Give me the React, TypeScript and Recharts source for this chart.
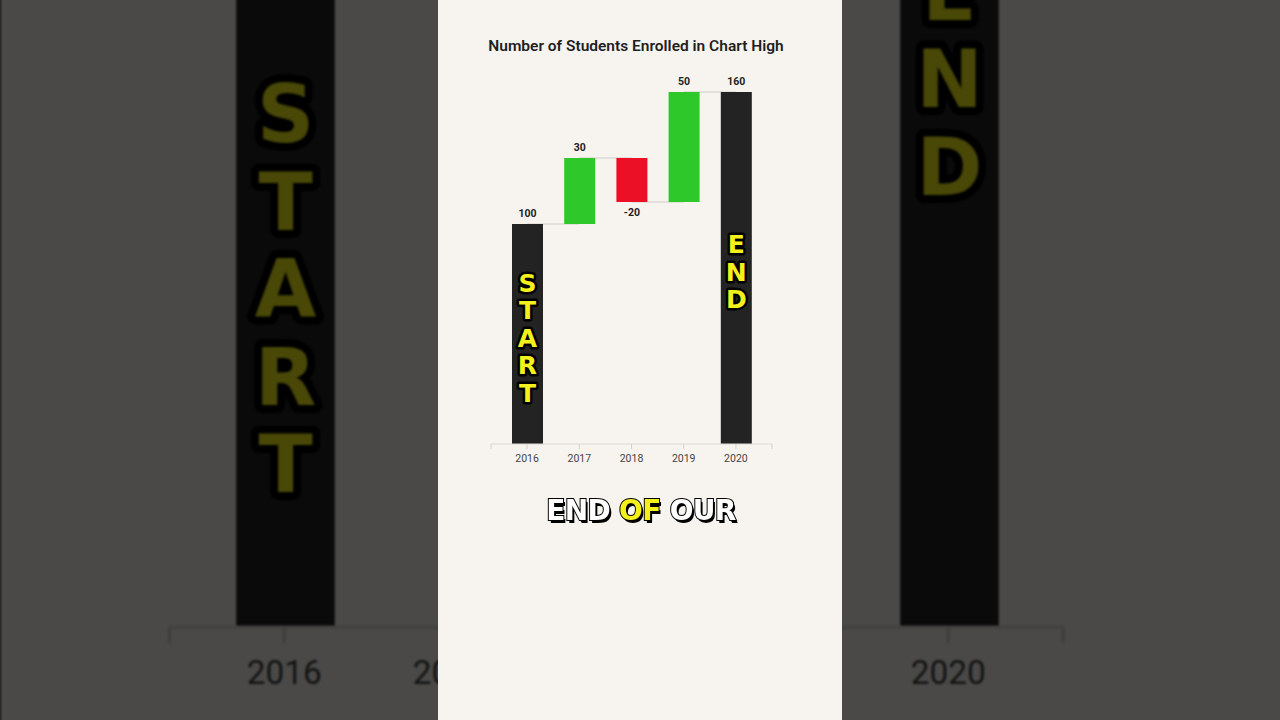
import React from "react";
import { Bar, ComposedChart, LabelList, Line, XAxis, YAxis, Cell } from "recharts";

const years = ["2016", "2017", "2018", "2019", "2020"];
const changes = [100, 30, -20, 50, 160];
const kinds = ["total", "increase", "decrease", "increase", "total"];
const barWords = ["START", "", "", "", "END"];

const kindColors: Record<string, string> = {
  total: "#232323",
  increase: "#2ec82b",
  decrease: "#eb1026",
};

const cream = "#f7f4ef";

// layout of the plot (used for the end ticks of the axis)
const plotWidth = 281;
const axisPad = 10;
const tickSize = 5;
const tickMargin = 5.5;
const edgeOffset = (plotWidth - 2 * axisPad) / years.length / 2 + axisPad;

// floating bars: an invisible base plus the visible span
let running = 0;
const rows = years.map((year, i) => {
  const change = changes[i];
  const kind = kinds[i];
  let base = 0;
  let span = 0;
  if (kind === "total") {
    base = 0;
    span = change;
    running = change;
  } else if (change >= 0) {
    base = running;
    span = change;
    running += change;
  } else {
    running += change;
    base = running;
    span = -change;
  }
  return { year, change, kind, base, span, level: running, word: barWords[i] };
});

const box = (props: any) => {
  const vb = props.viewBox || {};
  return {
    x: Number(props.x ?? vb.x),
    y: Number(props.y ?? vb.y),
    width: Number(props.width ?? vb.width),
    height: Number(props.height ?? vb.height),
  };
};

const ValueLabel = (props: any) => {
  const { x, y, width, height } = box(props);
  const value = Number(props.value);
  const cx = x + width / 2;
  const ty = value < 0 ? y + height + 14 : y - 7;
  return (
    <text x={cx} y={ty} textAnchor="middle" fontSize={10.5} fontWeight={700} fill="#222" fontFamily="Roboto, sans-serif">
      {value}
    </text>
  );
};

const WordLabel = (props: any) => {
  const word = String(props.value || "");
  if (!word) return null;
  const { x, y, width, height } = box(props);
  const cx = x + width / 2;
  const cy = y + height / 2 + 3.5;
  const n = word.length;
  return (
    <g>
      {word.split("").map((ch, i) => (
        <text
          key={i}
          x={cx}
          y={cy + (i - (n - 1) / 2) * 27.5}
          dy="0.36em"
          textAnchor="middle"
          fontSize={25}
          fontWeight={700}
          fontFamily="'DejaVu Sans', sans-serif"
          fill="#f4f01a"
          stroke="#000"
          strokeWidth={5}
          strokeLinejoin="round"
          paintOrder="stroke"
        >
          {ch}
        </text>
      ))}
    </g>
  );
};

const YearTick = (props: any) => {
  const { x, y, payload, index } = props;
  const last = years.length - 1;
  const axisY = y - tickSize - tickMargin;
  return (
    <g>
      {index === 0 && (
        <line x1={x - edgeOffset} x2={x - edgeOffset} y1={axisY} y2={axisY + tickSize} stroke="#d4d2ce" />
      )}
      {index === last && (
        <line x1={x + edgeOffset} x2={x + edgeOffset} y1={axisY} y2={axisY + tickSize} stroke="#d4d2ce" />
      )}
      <text x={x} y={y} dy="0.71em" textAnchor="middle" fontSize={10.5} fill="#444" fontFamily="Roboto, sans-serif">
        {payload.value}
      </text>
    </g>
  );
};

function Panel() {
  return (
    <div style={{ position: "absolute", left: 438, top: 0, width: 404, height: 720, background: cream }}>
      <div
        style={{
          position: "absolute",
          left: 0,
          top: 36,
          width: 396,
          textAlign: "center",
          fontFamily: "Roboto, sans-serif",
          fontWeight: 600,
          fontSize: 15.5,
          lineHeight: "20px",
          color: "#1f1f1f",
        }}
      >
        Number of Students Enrolled in Chart High
      </div>
      <div style={{ position: "absolute", left: 0, top: 0 }}>
        <ComposedChart width={404} height={480} data={rows} margin={{ top: 92, right: 70, bottom: 6, left: 53 }}>
          <XAxis
            dataKey="year"
            height={30}
            padding={{ left: axisPad, right: axisPad }}
            axisLine={{ stroke: "#dcdad6" }}
            tickLine={{ stroke: "#d4d2ce" }}
            tickSize={tickSize}
            tickMargin={tickMargin}
            tick={YearTick}
          />
          <YAxis hide domain={[0, 160]} />
          <Line
            type="stepAfter"
            dataKey="level"
            stroke="#cfcdc9"
            strokeWidth={1}
            dot={false}
            activeDot={false}
            isAnimationActive={false}
            zIndex={100}
          />
          <Bar dataKey="base" stackId="w" fill="transparent" barSize={31} isAnimationActive={false} />
          <Bar dataKey="span" stackId="w" barSize={31} isAnimationActive={false}>
            {rows.map((r, i) => (
              <Cell key={i} fill={kindColors[r.kind]} />
            ))}
            <LabelList dataKey="change" content={ValueLabel} />
            <LabelList dataKey="word" content={WordLabel} />
          </Bar>
        </ComposedChart>
      </div>
      <div
        style={{
          position: "absolute",
          left: 0,
          top: 496,
          width: 406,
          textAlign: "center",
          fontFamily: "'DejaVu Sans', sans-serif",
          fontWeight: 700,
          fontSize: 28,
          lineHeight: "30px",
          letterSpacing: -0.7,
          color: "#fff",
          WebkitTextStroke: "2px #000",
          paintOrder: "stroke fill",
          textShadow: "2px 3px 0 #000",
        }}
      >
        END <span style={{ color: "#f4f01a" }}>OF</span> OUR
      </div>
    </div>
  );
}

export default function App() {
  return (
    <div style={{ position: "fixed", left: 0, top: 0, width: 1280, height: 720, overflow: "hidden", background: "#4a4845" }}>
      <div
        style={{
          position: "absolute",
          left: 0,
          top: 0,
          width: 1280,
          height: 720,
          transform: "scale(3.18)",
          transformOrigin: "638.5px 360px",
          filter: "blur(0.4px)",
        }}
      >
        <Panel />
      </div>
      <div style={{ position: "absolute", left: 0, top: 0, width: 1280, height: 720, background: "rgba(0,0,0,0.7)" }} />
      <Panel />
    </div>
  );
}
